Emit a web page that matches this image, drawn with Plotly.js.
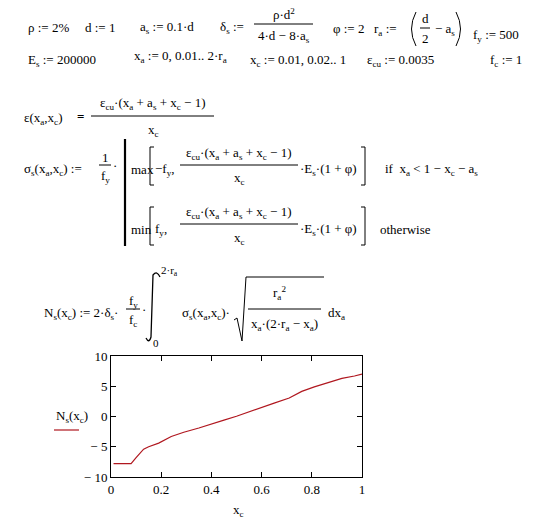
<!DOCTYPE html>
<html><head><meta charset="utf-8">
<script src="https://cdn.plot.ly/plotly-3.0.1.min.js"></script>
<style>html,body{margin:0;padding:0;background:#fff;overflow:hidden}</style>
</head><body><div id="chart" style="width:552px;height:525px"></div>
<script>
// ---- data ----
const xc = [0.01, 0.04, 0.08, 0.10, 0.13, 0.15, 0.19, 0.24, 0.29, 0.35, 0.40, 0.45, 0.50, 0.55, 0.60, 0.65, 0.71, 0.76, 0.81, 0.87, 0.92, 0.97, 1.00];
const Ns = [-7.8, -7.8, -7.8, -6.8, -5.4, -5.0, -4.4, -3.3, -2.6, -1.9, -1.3, -0.6, 0.05, 0.8, 1.5, 2.2, 3.05, 4.15, 4.9, 5.7, 6.3, 6.7, 7.0];
const xTickVals = [0, 0.2, 0.4, 0.6, 0.8, 1];
const xTickText = ['0', '0.2', '0.4', '0.6', '0.8', '1'];
const yTickVals = [-10, -5, 0, 5, 10];
const yTickText = ['\u2212 10', '\u2212 5', '0', '5', '10'];

// ---- page geometry ----
const L = 111, T = 356, R = 362, B = 477, W = R - L, H = B - T;
const px = v => (v - L) / W;
const py = v => (B - v) / H;
const FONT = 'Liberation Serif';
const ann = [], shp = [];
function t(x, y, text, anchor, size) {
  ann.push({xref: 'paper', yref: 'paper', x: px(x), y: py(y), xanchor: anchor || 'left', yanchor: 'middle',
    text: text, showarrow: false, borderpad: 0, font: {family: FONT, size: size || 13, color: '#000'}});
}
function line(x0, y0, x1, y1, w, c) {
  shp.push({type: 'line', xref: 'paper', yref: 'paper', x0: px(x0), y0: py(y0), x1: px(x1), y1: py(y1),
    line: {color: c || '#000', width: w || 1}});
}
function path(cmds, w) {
  const s = cmds.map(c => c[0] + ' ' + c.slice(1).map((v, i) => i % 2 === 0 ? px(v) : py(v)).join(',')).join(' ');
  shp.push({type: 'path', xref: 'paper', yref: 'paper', path: s, line: {color: '#000', width: w || 1}});
}
function lbr(x, y0, y1) { path([['M', x + 4, y0], ['L', x, y0], ['L', x, y1], ['L', x + 4, y1]], 1); }
function rbr(x, y0, y1) { path([['M', x - 4, y0], ['L', x, y0], ['L', x, y1], ['L', x - 4, y1]], 1); }

const sub = s => '<sub>' + s + '</sub>';
const num = '\u03b5' + sub('cu') + '\u00b7(x' + sub('a') + ' + a' + sub('s') + ' + x' + sub('c') + ' \u2212 1)';

// Row 1
t(27, 27, '\u03c1 := 2%');
t(84, 27, 'd := 1');
t(139, 27, 'a' + sub('s') + ' := 0.1\u00b7d');
t(219, 27, '\u03b4' + sub('s') + ' :=');
t(284, 14, '\u03c1\u00b7d<sup>2</sup>', 'center');
line(254, 24, 313, 24);
t(284, 36, '4\u00b7d \u2212 8\u00b7a' + sub('s'), 'center');
t(332, 28, '\u03c6 := 2');
t(373, 29, 'r' + sub('a') + ' :=');
path([['M', 416, 12], ['Q', 407, 29, 416, 46]], 1);
t(425, 18, 'd', 'center');
line(420, 28, 430, 28);
t(425, 38, '2', 'center');
t(434, 29, '\u2212 a' + sub('s'));
path([['M', 456, 12], ['Q', 465, 29, 456, 46]], 1);
t(472, 35, 'f' + sub('y') + ' := 500');

// Row 2
t(27, 60, 'E' + sub('s') + ' := 200000');
t(133, 56, 'x' + sub('a') + ' := 0, 0.01.. 2\u00b7r' + sub('a'));
t(249, 60, 'x' + sub('c') + ' := 0.01, 0.02.. 1');
t(366, 60, '\u03b5' + sub('cu') + ' := 0.0035');
t(489, 60, 'f' + sub('c') + ' := 1');

// epsilon row
t(23, 118, '\u03b5(x' + sub('a') + ',x' + sub('c') + ')');
t(76, 116, '<b>=</b>');
t(153, 104, num, 'center');
line(91, 116, 214, 116);
t(153, 130, 'x' + sub('c'), 'center');

// sigma block
t(23, 170, '\u03c3' + sub('s') + '(x' + sub('a') + ',x' + sub('c') + ') :=');
t(105, 157, '1', 'center');
line(99, 165, 111, 165);
t(105, 176, 'f' + sub('y'), 'center');
t(112, 165, '\u00b7');
line(125, 139, 125, 246, 2.2);
// line 1
t(130, 170, 'max');
lbr(150, 147, 185);
t(154, 170, '\u2212f' + sub('y') + ',');
t(239, 153, num, 'center');
line(180, 165, 298, 165);
t(239, 178, 'x' + sub('c'), 'center');
t(299, 170, '\u00b7E' + sub('s') + '\u00b7(1 + \u03c6)');
rbr(365, 147, 185);
t(384, 170, 'if  x' + sub('a') + ' &lt; 1 \u2212 x' + sub('c') + ' \u2212 a' + sub('s'));
// line 2
t(130, 229, 'min');
lbr(150, 207, 245);
t(154, 229, 'f' + sub('y') + ',');
t(239, 212, num, 'center');
line(180, 224, 298, 224);
t(239, 238, 'x' + sub('c'), 'center');
t(299, 229, '\u00b7E' + sub('s') + '\u00b7(1 + \u03c6)');
rbr(365, 207, 245);
t(379, 229, 'otherwise');

// N_s row
t(43, 313, 'N' + sub('s') + '(x' + sub('c') + ') := 2\u00b7\u03b4' + sub('s') + '\u00b7');
t(133, 301, 'f' + sub('y'), 'center');
line(126, 309, 140, 309);
t(133, 320, 'f' + sub('c'), 'center');
t(141, 309, '\u00b7');
path([['M', 160, 277], ['Q', 157, 270, 153, 275], ['L', 151, 337], ['Q', 149, 344, 146, 338]], 1.3);
t(160, 271, '2\u00b7r' + sub('a'), 'left', 11);
t(156, 343, '0', 'center', 11);
t(181, 313, '\u03c3' + sub('s') + '(x' + sub('a') + ',x' + sub('c') + ')\u00b7');
path([['M', 234, 320], ['L', 237, 318], ['L', 242, 341], ['L', 246, 277], ['L', 324, 277]], 1);
t(279, 293, 'r' + sub('a') + '<sup>2</sup>', 'center');
line(248, 309, 321, 309);
t(284, 324, 'x' + sub('a') + '\u00b7(2\u00b7r' + sub('a') + ' \u2212 x' + sub('a') + ')', 'center');
t(327, 313, 'dx' + sub('a'));

// plot legend-label and axis title
t(55, 416, 'N' + sub('s') + '(x' + sub('c') + ')');
line(54, 430, 79, 430, 1.2, '#b0171f');
t(238, 510, 'x' + sub('c'), 'center');

const trace = {x: xc, y: Ns, type: 'scatter', mode: 'lines', line: {color: '#b0171f', width: 1.2}, hoverinfo: 'skip'};
const axisCommon = {showgrid: false, zeroline: false, showline: true, linecolor: '#000', linewidth: 1, mirror: 'ticks',
  ticks: 'inside', ticklen: 5, tickcolor: '#000', tickfont: {family: FONT, size: 13, color: '#000'}, tickmode: 'array'};
const layout = {
  width: 552, height: 525, margin: {l: L, r: 552 - R, t: T, b: 525 - B, pad: 0},
  paper_bgcolor: '#fff', plot_bgcolor: '#fff', showlegend: false,
  font: {family: FONT, size: 13, color: '#000'},
  xaxis: Object.assign({}, axisCommon, {range: [0, 1], tickvals: xTickVals, ticktext: xTickText}),
  yaxis: Object.assign({}, axisCommon, {range: [-10, 10], tickvals: yTickVals, ticktext: yTickText}),
  annotations: ann, shapes: shp
};
Plotly.newPlot('chart', [trace], layout, {displayModeBar: false, staticPlot: true});
</script></body></html>
